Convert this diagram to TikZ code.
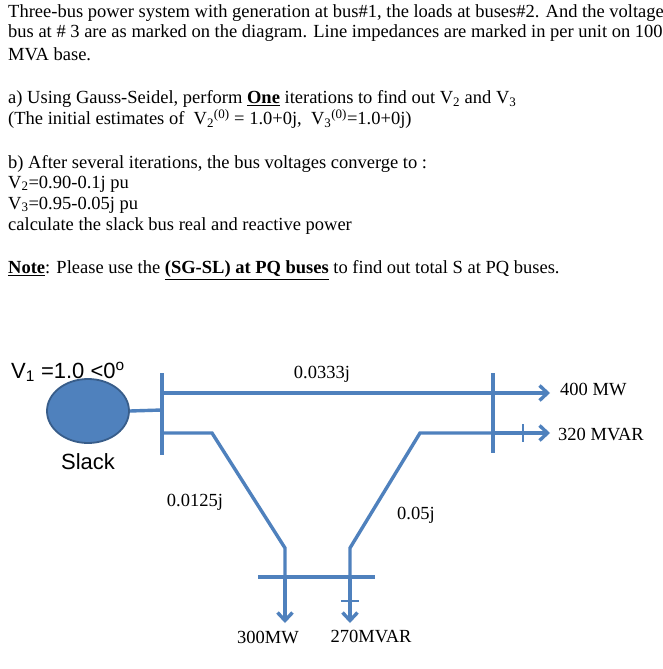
\documentclass[tikz,border=0pt]{standalone}
\usepackage{fontspec}
\setmainfont{Liberation Serif}
\setsansfont{Liberation Sans}
\usetikzlibrary{arrows.meta,shapes.geometric}
\definecolor{lb}{HTML}{4F81BD}
\definecolor{lbd}{HTML}{385D8A}
\begin{document}
\begin{tikzpicture}[x=1pt,y=-1pt,
  tx/.style={anchor=west,inner sep=0pt,font=\fontsize{18.5}{20}\selectfont},
  lbl/.style={inner sep=0pt,font=\fontsize{18.5}{20}\selectfont},
  sl/.style={inner sep=0pt,font=\sffamily\fontsize{22}{24}\selectfont},
  wire/.style={lb,line width=3.4pt},
  arr/.style={wire,-{Straight Barb[length=8pt,width=15pt]}}]
\useasboundingbox (0,0) rectangle (663,669);
\fill[white] (0,0) rectangle (663,669);
\node[tx] (t1) at (8,13) {Three-bus power system with generation at bus\#1, the loads at buses\#2. And the voltage};
\node[tx] (t2) at (8,33) {bus at \# 3 are as marked on the diagram. Line impedances are marked in per unit on 100};
\node[tx] (t3) at (8,54) {MVA base.};
\node[tx] (t4) at (8,99) {a) Using Gauss-Seidel, perform \textbf{\underline{One}} iterations to find out V\textsubscript{2} and V\textsubscript{3}};
\node[tx] (t5) at (8,119) {(The initial estimates of\ \ V\textsubscript{2}\textsuperscript{(0)} = 1.0+0j,\ \ V\textsubscript{3}\textsuperscript{(0)}=1.0+0j)};
\node[tx] (t6) at (8,164) {b) After several iterations, the bus voltages converge to :};
\node[tx] (t7) at (8,184) {V\textsubscript{2}=0.90-0.1j pu};
\node[tx] (t8) at (8,205) {V\textsubscript{3}=0.95-0.05j pu};
\node[tx] (t9) at (8,226) {calculate the slack bus real and reactive power};
\node[tx] (t10) at (8,270) {\textbf{\underline{Note}}: Please use the \textbf{\underline{(SG-SL) at PQ buses}} to find out total S at PQ buses.};
% diagram
\node[ellipse,draw=lbd,line width=1.8pt,fill=lb,minimum width=82pt,minimum height=64pt,inner sep=0pt] (g) at (88,411) {};
\node[sl,anchor=west] (v1) at (11,372) {V\textsubscript{1} =1.0 <0\textsuperscript{o}};
\node[sl] (sk) at (88,462) {Slack};
\coordinate (b1t) at (162,373); \coordinate (b1b) at (162,455);
\coordinate (b2t) at (493,373); \coordinate (b2b) at (493,453);
\coordinate (b3l) at (258,577); \coordinate (b3r) at (375,577);
\draw[wire] (b1t) -- (b1b);
\draw[wire] (b2t) -- (b2b);
\draw[wire] (b3l) -- (b3r);
\draw[wire] (g.east) -- (162,410);
\coordinate (e400) at (550,393);
\coordinate (e320) at (550,433);
\draw[arr] (162,393) -- (e400);
\draw[wire] (162,433) -- (212,433) -- (285,548) -- (285,577);
\draw[wire] (350,577) -- (350,548) -- (420,433) -- (493,433);
\draw[arr] (493,433) -- (e320);
\draw[wire,line width=2.4pt] (523,424) -- (523,442);
\coordinate (d1) at (285,623); \coordinate (d2) at (350,623);
\draw[arr] (285,577) -- (d1);
\draw[arr] (350,577) -- (d2);
\draw[wire,line width=2.4pt] (341,601) -- (359,601);
\node[lbl] (l1) at (322,374) {0.0333j};
\node[lbl,anchor=west] (l2) at (560,389) {400 MW};
\node[lbl,anchor=west] (l3) at (558,434) {320 MVAR};
\node[lbl] (l4) at (195,502) {0.0125j};
\node[lbl] (l5) at (416,515) {0.05j};
\node[lbl] (l6) at (268,637) {300MW};
\node[lbl] (l7) at (371,636) {270MVAR};
\end{tikzpicture}
\end{document}
